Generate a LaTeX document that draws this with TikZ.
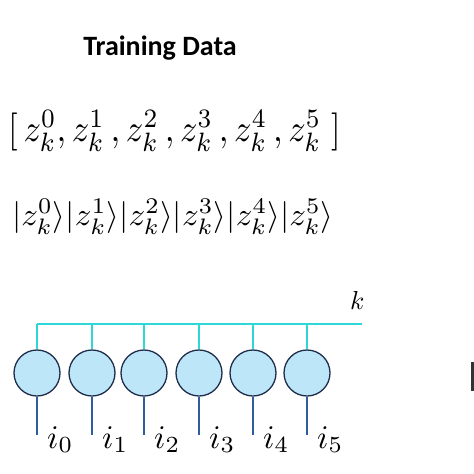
\documentclass[tikz,border=0pt]{standalone}
\usepackage{fontspec}
\usepackage{graphicx}
\newfontfamily\carlito{Carlito}
\definecolor{cyanline}{HTML}{2ED8D8}
\definecolor{cfill}{HTML}{BDE6F8}
\definecolor{cdraw}{HTML}{1F2D4A}
\definecolor{legline}{HTML}{2E5EA0}
\tikzset{
  site/.style={circle, draw=cdraw, line width=1.3pt, fill=cfill, minimum size=46pt, inner sep=0pt},
  bond/.style={cyanline, line width=2pt},
  leg/.style={legline, line width=2.6pt},
  idx/.style={inner sep=0pt, anchor=base west},
}
\begin{document}
\begin{tikzpicture}[x=1pt,y=-1pt]
\useasboundingbox (0,0) rectangle (474,474);
\node[font=\carlito\bfseries\fontsize{28}{32}\selectfont, anchor=base] (title) at (160,55) {Training Data};
\node[anchor=base west, inner sep=0pt] (vec) at (8,141)
  {\scalebox{3.45}[3.8]{$[\, z_k^0, z_k^1\,, z_k^2\,, z_k^3\,, z_k^4\,, z_k^5\;]$}};
\node[anchor=base west, inner sep=0pt] (ket) at (12,225)
  {\scalebox{3.3}[3.2]{$|z_k^0\rangle|z_k^1\rangle|z_k^2\rangle|z_k^3\rangle|z_k^4\rangle|z_k^5\rangle$}};
\coordinate (bondend) at (362,324);
\node[idx] (k) at (350,309) {\scalebox{2.6}{$k$}};
\foreach \x [count=\n from 0] in {37,92,144,199,253,307} {
  \node[site] (s\n) at (\x,373) {};
  \coordinate (b\n) at (\x,324);
  \coordinate (l\n) at (\x,435);
  \draw[bond] (b\n) -- (s\n.north);
  \draw[leg] (s\n.south) -- (l\n);
  \node[idx] (i\n) at (\x+10,448) {\scalebox{3.3}{$i_{\n}$}};
}
\draw[bond] (b0) -- (bondend);
\fill[black!80] (471,362) rectangle (474,391);
\end{tikzpicture}
\end{document}
